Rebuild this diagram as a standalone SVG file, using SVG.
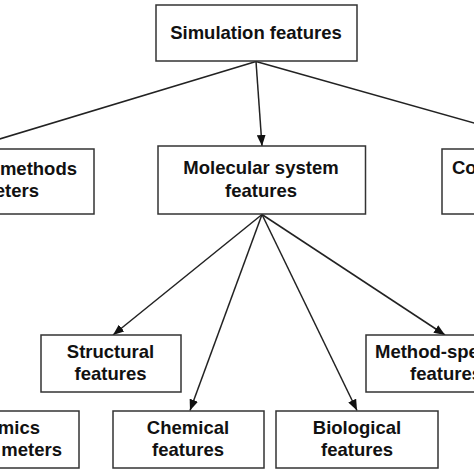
<svg xmlns="http://www.w3.org/2000/svg" width="474" height="474" viewBox="0 0 474 474">
<style>
.box{fill:#fff;stroke:#333;stroke-width:1.5}
.t{font-family:"Liberation Sans",Arial,sans-serif;font-weight:bold;font-size:18.5px;fill:#111}
.c{text-anchor:middle}
.e{text-anchor:end}
.ln{stroke:#222;stroke-width:1.5;fill:none}
.ar{marker-end:url(#ah)}
</style>
<defs>
<marker id="ah" viewBox="0 0 10 8" refX="10" refY="4" markerWidth="11" markerHeight="9" markerUnits="userSpaceOnUse" orient="auto">
<path d="M0,0 L10,4 L0,8 Z" fill="#111"/>
</marker>
</defs>
<rect width="474" height="474" fill="#fff"/>
<g id="connectors">
<line class="ln" x1="256" y1="61.5" x2="-2" y2="139.5"/>
<line class="ln" x1="256" y1="61.5" x2="476" y2="123.5"/>
<line class="ln ar" x1="256" y1="61.5" x2="262" y2="146"/>
<line class="ln ar" x1="262" y1="214.5" x2="113" y2="335"/>
<line class="ln ar" x1="262" y1="214.5" x2="190" y2="410.5"/>
<line class="ln ar" x1="262" y1="214.5" x2="357" y2="410.5"/>
<line class="ln ar" x1="262" y1="214.5" x2="445" y2="335"/>
</g>
<g id="simulation-features">
<rect class="box" x="156" y="5" width="201" height="56"/>
<text class="t c" x="256" y="39">Simulation features</text>
</g>
<g id="methods-parameters">
<rect class="box" x="-10" y="149" width="104" height="65"/>
<text class="t e" x="77" y="175">methods</text>
<text class="t e" x="39" y="197">eters</text>
</g>
<g id="molecular-system-features">
<rect class="box" x="158" y="146" width="207.5" height="68"/>
<text class="t c" x="261" y="174">Molecular system</text>
<text class="t c" x="261" y="197">features</text>
</g>
<g id="co">
<rect class="box" x="442" y="149" width="40" height="65"/>
<text class="t" x="452" y="174">Co</text>
</g>
<g id="structural-features">
<rect class="box" x="41" y="335" width="140" height="57"/>
<text class="t c" x="110.5" y="358">Structural</text>
<text class="t c" x="110.5" y="380">features</text>
</g>
<g id="method-specific-features">
<rect class="box" x="366" y="335" width="120" height="57"/>
<text class="t" x="375" y="358">Method-spe</text>
<text class="t" x="410" y="380">features</text>
</g>
<g id="dynamics-parameters">
<rect class="box" x="-10" y="411" width="89" height="57"/>
<text class="t e" x="40" y="434">mics</text>
<text class="t e" x="62" y="456">meters</text>
</g>
<g id="chemical-features">
<rect class="box" x="113" y="411" width="151" height="57"/>
<text class="t c" x="188" y="434">Chemical</text>
<text class="t c" x="188" y="456">features</text>
</g>
<g id="biological-features">
<rect class="box" x="276" y="411" width="162" height="57"/>
<text class="t c" x="357" y="434">Biological</text>
<text class="t c" x="357" y="456">features</text>
</g>
</svg>
